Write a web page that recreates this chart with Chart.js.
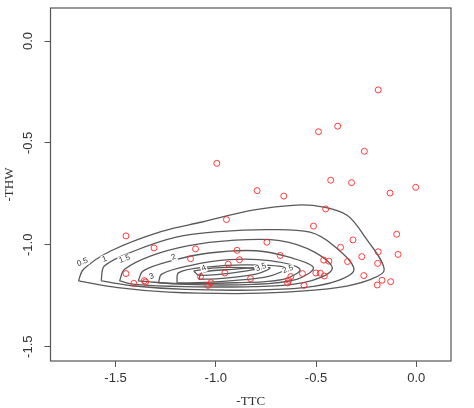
<!DOCTYPE html>
<html><head><meta charset="utf-8">
<script src="https://cdn.jsdelivr.net/npm/chart.js@4"></script>
<style>html,body{margin:0;padding:0;background:#fff}#w{width:474px;height:408px}</style>
</head><body><div id="w"><canvas id="c"></canvas></div>
<script>
const ttc = [-0.19,-0.488,-0.392,-0.259,-0.995,-0.427,-0.323,-0.003,-0.131,-0.794,-0.661,-0.452,-0.947,-0.513,-0.098,-1.448,-0.316,-0.745,-0.378,-1.308,-1.101,-0.894,-0.19,-0.679,-0.091,-0.272,-1.126,-0.882,-0.462,-0.436,-0.343,-0.193,-0.938,-0.501,-0.479,-1.448,-0.955,-0.568,-0.459,-0.262,-1.076,-0.626,-0.827,-0.128,-0.171,-1.357,-1.35,-0.637,-0.642,-1.409,-1.024,-1.039,-0.56,-0.195];
const thw = [-0.24,-0.445,-0.418,-0.541,-0.6,-0.683,-0.695,-0.718,-0.746,-0.734,-0.761,-0.824,-0.876,-0.908,-0.948,-0.956,-0.976,-0.987,-1.012,-1.015,-1.02,-1.027,-1.034,-1.052,-1.047,-1.058,-1.068,-1.073,-1.075,-1.08,-1.082,-1.091,-1.095,-1.138,-1.139,-1.141,-1.138,-1.141,-1.153,-1.151,-1.156,-1.156,-1.166,-1.181,-1.174,-1.176,-1.182,-1.174,-1.187,-1.189,-1.186,-1.199,-1.199,-1.197];
const contourLevels = ["0.5","1","1.5","2","2.5","3","3.5","4"];
const contourX = [
 [-1.685,-1.66,-1.522,-1.27,-1.068,-0.816,-0.597,-0.462,-0.345,-0.261,-0.16,-0.227,-0.395,-0.647,-0.9,-1.236,-1.488,-1.685],
 [-1.572,-1.555,-1.404,-1.202,-0.984,-0.731,-0.53,-0.412,-0.311,-0.395,-0.563,-0.815,-1.152,-1.404,-1.572],
 [-1.48,-1.455,-1.32,-1.135,-0.933,-0.681,-0.505,-0.42,-0.563,-0.815,-1.152,-1.404,-1.48],
 [-1.387,-1.362,-1.219,-1.034,-0.799,-0.63,-0.513,-0.597,-0.815,-1.152,-1.387],
 [-1.286,-1.27,-1.135,-0.933,-0.731,-0.58,-0.664,-0.9,-1.135,-1.286],
 [-1.194,-1.185,-1.034,-0.849,-0.647,-0.731,-0.933,-1.1,-1.194],
 [-1.085,-1.068,-0.917,-0.731,-0.799,-0.984,-1.085],
 [-1.11,-0.984,-0.799,-0.933,-1.085,-1.11]
];
const contourY = [
 [-1.177,-1.12,-1.029,-0.934,-0.888,-0.83,-0.805,-0.815,-0.855,-0.955,-1.12,-1.169,-1.21,-1.232,-1.239,-1.232,-1.21,-1.177],
 [-1.177,-1.103,-1.029,-0.963,-0.935,-0.925,-0.938,-1.004,-1.12,-1.177,-1.21,-1.222,-1.219,-1.202,-1.177],
 [-1.177,-1.12,-1.053,-1.004,-0.979,-0.979,-1.037,-1.12,-1.186,-1.205,-1.205,-1.194,-1.177],
 [-1.177,-1.128,-1.078,-1.04,-1.029,-1.062,-1.112,-1.169,-1.194,-1.194,-1.177],
 [-1.186,-1.144,-1.103,-1.073,-1.078,-1.12,-1.169,-1.186,-1.19,-1.186],
 [-1.186,-1.136,-1.108,-1.098,-1.112,-1.153,-1.177,-1.186,-1.186],
 [-1.169,-1.136,-1.12,-1.112,-1.144,-1.166,-1.169],
 [-1.128,-1.112,-1.117,-1.14,-1.149,-1.128]
];
const labelX = [-1.665,-1.555,-1.455,-1.21,-0.64,-1.32,-0.775,-1.06];
const labelY = [-1.085,-1.07,-1.07,-1.06,-1.12,-1.155,-1.11,-1.115];
const xTicks = [-1.5,-1.0,-0.5,0.0];
const yTicks = [-1.5,-1.0,-0.5,0.0];

const datasets = contourX.map((xs,i)=>({
  type:'line', data: xs.map((x,j)=>({x, y: contourY[i][j]})),
  borderColor:'#5a5a5a', borderWidth:1.3, pointRadius:0, tension:0.35, fill:false, showLine:true, order:2
}));
datasets.push({type:'scatter', data: ttc.map((x,i)=>({x, y: thw[i]})),
  borderColor:'rgba(255,40,40,0.9)', backgroundColor:'rgba(0,0,0,0)', pointRadius:3, borderWidth:1, order:1});

const extra = {
  id:'extra',
  afterDraw(chart){
    const {ctx, chartArea:a, scales:{x,y}} = chart;
    ctx.save();
    ctx.strokeStyle='#555'; ctx.lineWidth=1.2;
    ctx.strokeRect(a.left,a.top,a.right-a.left,a.bottom-a.top);
    ctx.fillStyle='#333'; ctx.font='13px "Liberation Sans"';
    ctx.textAlign='center'; ctx.textBaseline='middle';
    yTicks.forEach(v=>{
      const py=y.getPixelForValue(v);
      ctx.save(); ctx.translate(28,py); ctx.rotate(-Math.PI/2);
      ctx.fillText(v.toFixed(1),0,0); ctx.restore();
    });
    ctx.font='13px "Liberation Serif"';
    ctx.save(); ctx.translate(10,(a.top+a.bottom)/2); ctx.rotate(-Math.PI/2);
    ctx.fillText('-THW',0,0); ctx.restore();
    ctx.fillText('-TTC',(a.left+a.right)/2,402);
    ctx.font='8px "Liberation Sans"'; ctx.fillStyle='#333';
    contourLevels.forEach((l,i)=>{
      const px=x.getPixelForValue(labelX[i]), py=y.getPixelForValue(labelY[i]);
      ctx.save(); ctx.translate(px,py); ctx.rotate(-0.35);
      ctx.fillStyle='#fff'; const w=ctx.measureText(l).width; ctx.fillRect(-w/2-1,-4,w+2,8);
      ctx.fillStyle='#333'; ctx.fillText(l,0,0); ctx.restore();
    });
    ctx.restore();
  }
};

new Chart(document.getElementById('c'), {
  type:'scatter',
  data:{datasets},
  options:{
    responsive:true, maintainAspectRatio:false, animation:false,
    layout:{padding:{top:8,right:23,left:0,bottom:0}},
    plugins:{legend:{display:false}, tooltip:{enabled:false}},
    scales:{
      x:{type:'linear', min:-1.8245, max:0.173,
        afterBuildTicks:s=>{s.ticks=xTicks.map(v=>({value:v}));},
        afterFit:s=>{s.height=47;},
        grid:{drawOnChartArea:false, tickLength:6, color:'#555'},
        border:{display:false},
        ticks:{color:'#333', font:{family:'Liberation Sans', size:13}, padding:4, maxRotation:0, callback:v=>v.toFixed(1)}},
      y:{type:'linear', min:-1.57, max:0.162,
        afterBuildTicks:s=>{s.ticks=yTicks.map(v=>({value:v}));},
        afterFit:s=>{s.width=50.5;},
        grid:{drawOnChartArea:false, tickLength:6, color:'#555'},
        border:{display:false},
        ticks:{display:false}}
    }
  },
  plugins:[extra]
});
</script></body></html>
